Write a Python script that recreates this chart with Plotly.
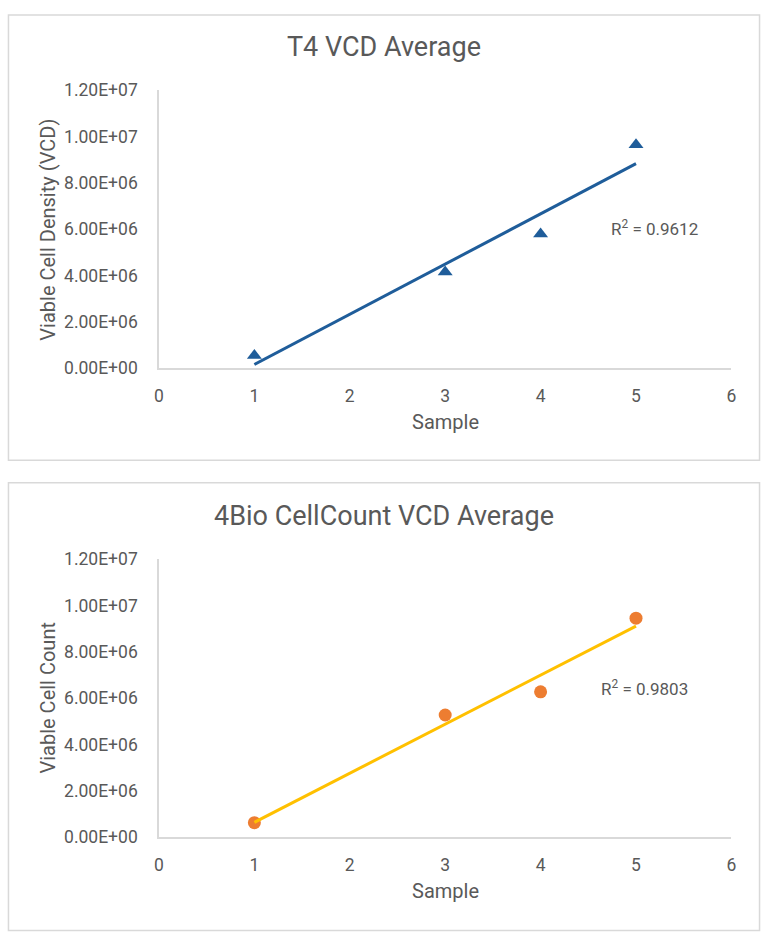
import numpy as np
import plotly.graph_objects as go

# ---- data ----
samples = [1, 3, 4, 5]
t4_vcd = [0.55e6, 4.15e6, 5.80e6, 9.65e6]
bio_vcd = [0.62e6, 5.27e6, 6.27e6, 9.45e6]
r2_labels = ["R<sup>2</sup> = 0.9612", "R<sup>2</sup> = 0.9803"]
titles = ["T4 VCD Average", "4Bio CellCount VCD Average"]
y_titles = ["Viable Cell Density (VCD)", "Viable Cell Count"]
x_title = "Sample"
y_tickvals = [0, 2e6, 4e6, 6e6, 8e6, 10e6, 12e6]
y_ticktext = ["0.00E+00", "2.00E+06", "4.00E+06", "6.00E+06", "8.00E+06", "1.00E+07", "1.20E+07"]
x_tickvals = [0, 1, 2, 3, 4, 5, 6]

W, H = 768, 943
FONT = "Roboto"
GRAY = "#595959"
AX = "#d9d9d9"

def px(x):
    return x / W

def py(y):
    return 1 - y / H

fig = go.Figure()

OFF = 479
panels = [
    dict(y=t4_vcd, color="#1f5d9a", line="#1f5d9a", sym="triangle-up", msize=13,
         xa="x", ya="y", xaxis="xaxis", yaxis="yaxis", off=0, r2pos=(658, 223)),
    dict(y=bio_vcd, color="#ed7d31", line="#ffc000", sym="circle", msize=13,
         xa="x2", ya="y2", xaxis="xaxis2", yaxis="yaxis2", off=OFF, r2pos=(648, 693)),
]

for i, p in enumerate(panels):
    fig.add_trace(go.Scatter(x=samples, y=p["y"], mode="markers",
                             marker=dict(symbol=p["sym"], size=p["msize"], color=p["color"]),
                             xaxis=p["xa"], yaxis=p["ya"], showlegend=False))
    slope, icpt = np.polyfit(samples, p["y"], 1)
    xs = [min(samples), max(samples)]
    fig.add_trace(go.Scatter(x=xs, y=[slope * v + icpt for v in xs], mode="lines",
                             line=dict(color=p["line"], width=3),
                             xaxis=p["xa"], yaxis=p["ya"], showlegend=False))
    off = p["off"]
    top, bot = 82 + off, 366 + off
    fig.layout[p["xaxis"]] = dict(domain=[px(156), px(736)], range=[0, 6], tickvals=x_tickvals,
                                   showgrid=False, zeroline=False, showline=True, linecolor=AX,
                                   linewidth=1.5, ticks="", ticklabelstandoff=11,
                                   tickfont=dict(family=FONT, size=17.5, color=GRAY),
                                   anchor=p["ya"], fixedrange=True)
    fig.layout[p["yaxis"]] = dict(domain=[py(bot), py(top)], range=[0, 1.2e7], tickvals=y_tickvals,
                                   ticktext=y_ticktext, showgrid=False, zeroline=False, showline=True,
                                   linecolor=AX, linewidth=1.5, ticks="", ticklabelstandoff=16,
                                   tickfont=dict(family=FONT, size=17.5, color=GRAY),
                                   anchor=p["xa"], fixedrange=True)
    # box
    y_top = 5 if off == 0 else 483
    y_bot = 460 if off == 0 else 940.5
    fig.add_shape(type="rect", xref="paper", yref="paper",
                  x0=px(3.5), x1=px(764.5), y0=py(y_bot), y1=py(y_top),
                  line=dict(color=AX, width=1.5), fillcolor="rgba(0,0,0,0)", layer="below")
    # title
    fig.add_annotation(text=titles[i], xref="paper", yref="paper", x=px(384), y=py(38 + off),
                       showarrow=False, xanchor="center", yanchor="middle",
                       font=dict(family=FONT, size=27, color=GRAY))
    # y title
    fig.add_annotation(text=y_titles[i], xref="paper", yref="paper", x=px(44), y=py(224 + off),
                       showarrow=False, textangle=-90, xanchor="center", yanchor="middle",
                       font=dict(family=FONT, size=20, color=GRAY))
    # x title
    fig.add_annotation(text=x_title, xref="paper", yref="paper", x=px(446), y=py(421 + off),
                       showarrow=False, xanchor="center", yanchor="middle",
                       font=dict(family=FONT, size=20, color=GRAY))
    # R2
    fig.add_annotation(text=r2_labels[i], xref="paper", yref="paper", x=px(p["r2pos"][0]),
                       y=py(p["r2pos"][1]), showarrow=False, xanchor="center", yanchor="middle",
                       font=dict(family=FONT, size=17, color=GRAY))

fig.update_layout(width=W, height=H, autosize=False, margin=dict(l=0, r=0, t=0, b=0),
                  paper_bgcolor="white", plot_bgcolor="white")

fig.write_html("out.html")
